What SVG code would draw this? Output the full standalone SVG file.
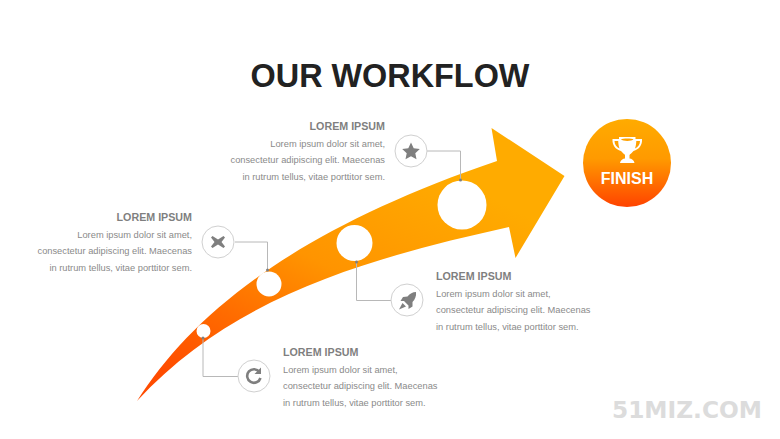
<svg xmlns="http://www.w3.org/2000/svg" width="780" height="439" viewBox="0 0 780 439">
<style>
text{font-family:"Liberation Sans",Arial,sans-serif}
.h{font-size:10.700px;font-weight:700;fill:#7f7f7f}
.b{font-size:9.300px;fill:#8a8a8a}
.e{text-anchor:end}
.ring{fill:#fff;stroke:#d0d0d0;stroke-width:1}
.ln{fill:none;stroke:#b8b8b8;stroke-width:1}
.dot{fill:#7f7f7f}
.ic{fill:#7f7f7f}
.hole{fill:#fff}
</style>
<defs>
<linearGradient id="ag" gradientUnits="userSpaceOnUse" x1="400" y1="150" x2="260" y2="420">
<stop offset="0" stop-color="#ffab00"/><stop offset="0.45" stop-color="#ff9400"/><stop offset="0.75" stop-color="#ff6a00"/><stop offset="1" stop-color="#ff4c00"/>
</linearGradient>
<linearGradient id="cg" x1="0" y1="0" x2="0" y2="1">
<stop offset="0" stop-color="#ffab00"/><stop offset="0.45" stop-color="#ff9a00"/><stop offset="1" stop-color="#ff4300"/>
</linearGradient>
</defs>
<rect width="780" height="439" fill="#fff"/>
<text x="390" y="87" text-anchor="middle" font-size="32.400px" font-weight="700" fill="#222">OUR WORKFLOW</text>
<g id="arrow">
<path d="M137 401C195 310 300 228 497 161L491.500 128L564.500 176L515.500 258L509 227C370 258 235 295 137 401Z" fill="url(#ag)"/>
<circle class="hole" cx="462" cy="205" r="24.500"/>
<circle class="hole" cx="354.500" cy="243" r="18"/>
<circle class="hole" cx="269" cy="284" r="12.500"/>
<circle class="hole" cx="203.500" cy="331" r="7"/>
</g>
<g id="connectors">
<path class="ln" d="M427 151H460.500V180"/><circle class="dot" cx="460.500" cy="180" r="1.500"/>
<path class="ln" d="M235 242H267.500V270"/><circle class="dot" cx="267.500" cy="270" r="1.500"/>
<path class="ln" d="M391 300.500H356.500V261"/><circle class="dot" cx="356.500" cy="262" r="1.500"/>
<path class="ln" d="M238 376.500H203V338"/><circle class="dot" cx="203" cy="338" r="1.500"/>
</g>
<g id="step-star">
<circle class="ring" cx="411" cy="151" r="16"/>
<path class="ic" d="M411 142.500L413.700 148.200L419.800 149L415.300 153.200L416.500 159.300L411 156.300L405.500 159.300L406.700 153.200L402.200 149L408.300 148.200Z"/>
<text class="h e" x="385" y="130">LOREM IPSUM</text>
<text class="b e" x="385" y="147">Lorem ipsum dolor sit amet,</text>
<text class="b e" x="385" y="163">consectetur adipiscing elit. Maecenas</text>
<text class="b e" x="385" y="180">in rutrum tellus, vitae porttitor sem.</text>
</g>
<g id="step-cross">
<circle class="ring" cx="218" cy="242" r="16"/>
<path class="ic" d="M212.500 236L218 239.500L223.500 236L225 237.500L221.500 242L225 246.500L223.500 248L218 244.500L212.500 248L211 246.500L214.500 242L211 237.500Z"/>
<text class="h e" x="192" y="221">LOREM IPSUM</text>
<text class="b e" x="192" y="238">Lorem ipsum dolor sit amet,</text>
<text class="b e" x="192" y="254">consectetur adipiscing elit. Maecenas</text>
<text class="b e" x="192" y="271">in rutrum tellus, vitae porttitor sem.</text>
</g>
<g id="step-rocket">
<circle class="ring" cx="407" cy="300" r="16"/>
<path class="ic" d="M416 292C416.500 296 415 299.500 412.500 302L412.500 306.500L408.500 309L408.500 305.500L404 301L400.500 301L403 297L407.500 296.500C410 293.500 412.500 292 416 292ZM402.500 303L406 306.500L399 309.500Z"/>
<text class="h" x="436" y="280">LOREM IPSUM</text>
<text class="b" x="436" y="297">Lorem ipsum dolor sit amet,</text>
<text class="b" x="436" y="313">consectetur adipiscing elit. Maecenas</text>
<text class="b" x="436" y="330">in rutrum tellus, vitae porttitor sem.</text>
</g>
<g id="step-refresh">
<circle class="ring" cx="254" cy="376" r="16"/>
<path fill="none" stroke="#7f7f7f" stroke-width="2.600" d="M259.500 372A6.800 6.800 0 1 0 260.500 378"/>
<path class="ic" d="M261 367.500V374H254.500Z"/>
<text class="h" x="283" y="356">LOREM IPSUM</text>
<text class="b" x="283" y="373">Lorem ipsum dolor sit amet,</text>
<text class="b" x="283" y="389">consectetur adipiscing elit. Maecenas</text>
<text class="b" x="283" y="406">in rutrum tellus, vitae porttitor sem.</text>
</g>
<g id="finish">
<circle cx="627" cy="163" r="44" fill="url(#cg)"/>
<path fill="#fff" fill-rule="evenodd" d="M619 137H635.500V139H642C642.500 145 639 149.500 633.500 151C632 153 630 154 629.500 155V158.500C631.500 158.500 634 160 634.500 163H620C620.500 160 623 158.500 625 158.500V155C624.500 154 622.500 153 621 151C615.500 149.500 612 145 612.500 139H619ZM614.500 141C614.500 144.500 616.500 147 619.500 148.500C618.700 146.500 618.300 143.500 618.200 141ZM640 141H636.300C636.200 143.500 635.800 146.500 635 148.500C638 147 640 144.500 640 141ZM621 139.300C622.500 141.500 632 141.500 633.500 139.300C632 138.200 622.500 138.200 621 139.300Z"/>
<text x="627" y="184" text-anchor="middle" font-size="16" font-weight="700" fill="#fff">FINISH</text>
</g>
<text x="687" y="418" text-anchor="middle" font-size="23.300px" font-weight="700" fill="#dcdcdc" style="font-family:'DejaVu Sans',sans-serif">51MIZ.COM</text>
</svg>
